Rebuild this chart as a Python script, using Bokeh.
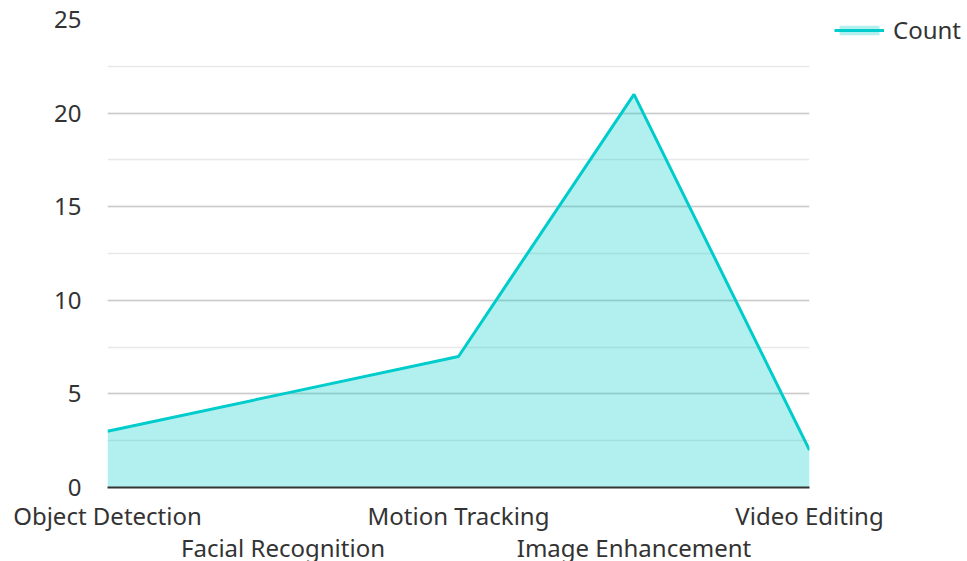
from bokeh.plotting import figure
from bokeh.models import (ColumnDataSource, Range1d, FixedTicker, LinearAxis,
                          SingleIntervalTicker, Legend, LegendItem)
from bokeh.embed import file_html
from bokeh.resources import INLINE

categories = ["Object Detection", "Facial Recognition", "Motion Tracking",
              "Image Enhancement", "Video Editing"]
counts = [3, 5, 7, 21, 2]
series_name = "Count"

FONT = "Noto Sans"
TXT = "#333333"
LINE = "#00cccc"
FS = "24px"

idx = list(range(len(categories)))
src = ColumnDataSource(dict(x=idx, y=counts, y0=[0] * len(counts)))

p = figure(frame_width=702, frame_height=468, output_backend="svg",
           toolbar_location=None, x_axis_location=None, y_axis_location=None,
           x_range=Range1d(0, len(categories) - 1), y_range=Range1d(0, 25),
           min_border_left=107, min_border_right=150, min_border_top=19,
           min_border_bottom=74)
p.outline_line_color = None
p.background_fill_color = "white"
p.border_fill_color = "white"

# y axis
yax = LinearAxis(ticker=SingleIntervalTicker(interval=5, num_minor_ticks=2))
yax.axis_line_color = None
yax.major_tick_line_color = None
yax.minor_tick_line_color = None
yax.major_tick_out = 0
yax.major_tick_in = 0
yax.minor_tick_out = 0
yax.minor_tick_in = 0
yax.major_label_standoff = 26
yax.major_label_text_font = FONT
yax.major_label_text_font_size = FS
yax.major_label_text_color = TXT
p.add_layout(yax, "left")

# x axis rows (alternating)
overrides = {i: c for i, c in zip(idx, categories)}
xax1 = LinearAxis(ticker=FixedTicker(ticks=idx[0::2]))
xax1.major_label_overrides = {i: overrides[i] for i in idx[0::2]}
xax1.axis_line_color = "#333333"
xax1.axis_line_width = 2
xax1.major_label_standoff = 11
xax2 = LinearAxis(ticker=FixedTicker(ticks=idx[1::2]))
xax2.major_label_overrides = {i: overrides[i] for i in idx[1::2]}
xax2.axis_line_color = None
xax2.major_label_standoff = -4
for ax in (xax1, xax2):
    ax.major_tick_line_color = None
    ax.minor_tick_line_color = None
    ax.major_tick_out = 0
    ax.major_tick_in = 0
    ax.minor_tick_out = 0
    ax.minor_tick_in = 0
    ax.major_label_text_font = FONT
    ax.major_label_text_font_size = FS
    ax.major_label_text_color = TXT
p.add_layout(xax1, "below")
p.add_layout(xax2, "below")

p.xgrid.visible = False
p.ygrid.ticker = yax.ticker
p.ygrid.grid_line_color = "#cccccc"
p.ygrid.grid_line_width = 1.5
p.ygrid.minor_grid_line_color = "#e8e8e8"
p.ygrid.minor_grid_line_width = 1.5

area = p.varea(x="x", y1="y0", y2="y", source=src, fill_color=LINE, fill_alpha=0.3)
ln = p.line(x="x", y="y", source=src, line_color=LINE, line_width=3)

legend = Legend(items=[LegendItem(label=series_name, renderers=[area, ln])],
                location=(25, 441), padding=0, margin=0, border_line_color=None,
                background_fill_alpha=0, glyph_width=50, glyph_height=12,
                label_standoff=9, label_text_font=FONT, label_text_font_size=FS,
                label_text_color=TXT)
p.add_layout(legend, "right")

open("out.html", "w").write(file_html(p, INLINE))
